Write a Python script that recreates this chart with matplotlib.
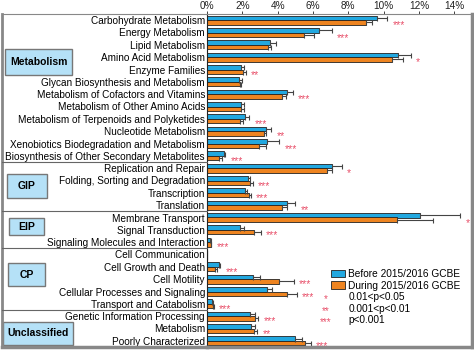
import numpy as np
import matplotlib
matplotlib.use('Agg')
import matplotlib.pyplot as plt
from matplotlib.patches import Patch, Rectangle
from matplotlib.lines import Line2D
from matplotlib.text import Text
from matplotlib.legend_handler import HandlerBase
from matplotlib.transforms import blended_transform_factory

plt.rcParams['font.family'] = ['Liberation Sans', 'DejaVu Sans']

categories = [
    'Carbohydrate Metabolism', 'Energy Metabolism', 'Lipid Metabolism',
    'Amino Acid Metabolism', 'Enzyme Families', 'Glycan Biosynthesis and Metabolism',
    'Metabolism of Cofactors and Vitamins', 'Metabolism of Other Amino Acids',
    'Metabolism of Terpenoids and Polyketides', 'Nucleotide Metabolism',
    'Xenobiotics Biodegradation and Metabolism', 'Biosynthesis of Other Secondary Metabolites',
    'Replication and Repair', 'Folding, Sorting and Degradation', 'Transcription',
    'Translation', 'Membrane Transport', 'Signal Transduction',
    'Signaling Molecules and Interaction', 'Cell Communication', 'Cell Growth and Death',
    'Cell Motility', 'Cellular Processes and Signaling', 'Transport and Catabolism',
    'Genetic Information Processing', 'Metabolism', 'Poorly Characterized',
]
before = [9.64, 6.33, 3.55, 10.83, 1.91, 1.81, 4.50, 1.93, 2.17, 3.36, 3.40, 0.96,
          7.05, 2.33, 2.15, 4.50, 12.06, 1.85, 0.19, 0.01, 0.68, 2.61, 3.42, 0.30,
          2.46, 2.51, 5.00]
before_err = [0.56, 0.72, 0.38, 0.70, 0.19, 0.19, 0.34, 0.17, 0.21, 0.29, 0.68, 0.08,
              0.57, 0.13, 0.14, 0.50, 2.27, 0.23, 0.03, 0.005, 0.06, 0.41, 0.27, 0.03,
              0.24, 0.19, 0.35]
during = [8.98, 5.48, 3.46, 10.47, 2.04, 1.85, 4.25, 1.95, 1.89, 3.23, 2.95, 0.68,
          6.80, 2.46, 2.36, 4.25, 10.78, 2.65, 0.23, 0.01, 0.47, 4.06, 4.54, 0.34,
          2.70, 2.65, 5.54]
during_err = [0.34, 0.59, 0.19, 0.63, 0.15, 0.10, 0.21, 0.13, 0.15, 0.13, 0.38, 0.17,
              0.30, 0.14, 0.12, 0.25, 2.04, 0.39, 0.02, 0.005, 0.10, 0.85, 0.53, 0.03,
              0.19, 0.19, 0.34]
signif = ['***', '***', '', '*', '**', '', '***', '', '***', '**', '***', '***',
          '*', '***', '***', '**', '*', '***', '***', '', '***', '***', '***', '***',
          '***', '**', '***']
groups = ['Metabolism', 'GIP', 'EIP', 'CP', 'Unclassified']
group_sizes = [12, 4, 3, 5, 3]
xticks = [0, 2, 4, 6, 8, 10, 12, 14]

BLUE = '#22A8E0'
ORANGE = '#EE8420'
STAR = '#E8506A'
W, H = 474, 350


class Stars:
    def __init__(self, s):
        self.s = s


class StarHandler(HandlerBase):
    def create_artists(self, legend, orig_handle, xdescent, ydescent, width, height,
                       fontsize, trans):
        t = Text(-4 - xdescent, height * 0.1 - ydescent, orig_handle.s, color=STAR,
                 fontsize=7, ha='center', va='center', transform=trans)
        return [t]


fig = plt.figure(figsize=(W / 100, H / 100), dpi=100)
ax = fig.add_axes([207 / W, 1 - 347 / H, (472 - 207) / W, (347 - 14) / H])

y = np.arange(len(categories))
bh = 0.37
ekw = dict(ecolor='#444444', elinewidth=0.8, capsize=1.8, capthick=0.8)
ax.barh(y - bh / 2, before, height=bh, color=BLUE, edgecolor='#222222', linewidth=0.6,
        xerr=[np.zeros(len(y)), before_err], error_kw=ekw)
ax.barh(y + bh / 2, during, height=bh, color=ORANGE, edgecolor='#222222', linewidth=0.6,
        xerr=[np.zeros(len(y)), during_err], error_kw=ekw)

for i, s in enumerate(signif):
    if s:
        xs = max(before[i] + before_err[i], during[i] + during_err[i]) + 0.3
        ax.text(xs, i + 0.42, s, color=STAR, fontsize=7.5, va='center', ha='left')

ax.set_xlim(0, 15)
ax.set_ylim(len(categories) - 0.5, -0.5)
ax.xaxis.tick_top()
ax.set_xticks(xticks)
ax.set_xticklabels([f'{t}%' for t in xticks], fontsize=7.2, color='#222222')
ax.tick_params(axis='x', length=2, width=0.6, pad=0.5, colors='#222222')
ax.set_yticks(y)
ax.set_yticklabels(categories, fontsize=7.2)
ax.tick_params(axis='y', length=0, pad=1.5)
ax.spines['top'].set_color('#888888')
ax.spines['top'].set_linewidth(0.8)
ax.spines['bottom'].set_color('#888888')
ax.spines['bottom'].set_linewidth(2.5)
ax.spines['right'].set_color('#888888')
ax.spines['right'].set_linewidth(2.5)
ax.spines['left'].set_color('#222222')
ax.spines['left'].set_linewidth(0.8)

# left label panel frame
trans = blended_transform_factory(fig.transFigure, ax.transAxes)
fig.add_artist(Line2D([2 / W, 207 / W], [1, 1], transform=trans, color='#888888', lw=0.8))
fig.add_artist(Line2D([2 / W, 207 / W], [0, 0], transform=trans, color='#888888', lw=2.5))
fig.add_artist(Line2D([1.5 / W, 1.5 / W], [0, 1], transform=trans, color='#888888', lw=2.0))

# group separators
tsep = blended_transform_factory(fig.transFigure, ax.transData)
edges = np.cumsum(group_sizes)[:-1] - 0.5
for e in edges:
    fig.add_artist(Line2D([2 / W, 207 / W], [e, e], transform=tsep, color='#666666', lw=0.8))

# group boxes (pixel layout: x0, y0 top, width, height)
boxes = [(5, 49, 67, 26), (7, 174, 40, 24), (9, 218, 35, 17), (8, 263, 37, 23), (3, 322, 70, 23)]
for name, (bx, by, bw, bhh) in zip(groups, boxes):
    fig.add_artist(Rectangle((bx / W, 1 - (by + bhh) / H), bw / W, bhh / H,
                             transform=fig.transFigure, facecolor='#B5E1F7',
                             edgecolor='#777777', lw=1.0))
    fig.text((bx + bw / 2) / W, 1 - (by + bhh / 2) / H, name, fontsize=7.5,
             fontweight='bold', ha='center', va='center')

handles = [Patch(facecolor=BLUE, edgecolor='#222222', lw=0.6),
           Patch(facecolor=ORANGE, edgecolor='#222222', lw=0.6),
           Stars('*'), Stars('**'), Stars('***')]
leg_labels = ['Before 2015/2016 GCBE', 'During 2015/2016 GCBE',
              '0.01<p<0.05', '0.001<p<0.01', 'p<0.001']
ax.legend(handles, leg_labels, loc='upper left', bbox_to_anchor=(331 / W, 1 - 269 / H),
          bbox_transform=fig.transFigure, frameon=False, fontsize=7.3,
          handlelength=1.4, handleheight=0.7, handletextpad=0.3, labelspacing=0.15,
          borderpad=0, borderaxespad=0, handler_map={Stars: StarHandler()})

fig.savefig('out.png', dpi=100)
